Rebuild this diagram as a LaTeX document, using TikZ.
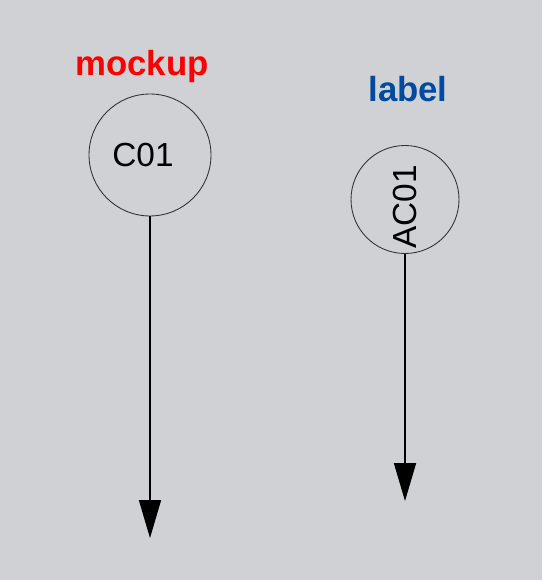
\documentclass[tikz,border=0pt]{standalone}
\usepackage{fontspec}
\setmainfont{Liberation Sans}
\usetikzlibrary{arrows.meta, positioning}
\definecolor{bggray}{RGB}{208,209,213}
\definecolor{mockred}{RGB}{255,0,0}
\definecolor{labelblue}{RGB}{0,75,160}

\begin{document}
\begin{tikzpicture}[x=0.02cm, y=-0.02cm, -{Triangle[length=21.5pt, width=12.5pt]}]
    \tikzstyle{bubble} = [draw=black!80, circle, line width=0.5pt, inner sep=0pt]
    \tikzstyle{title} = [font=\fontsize{19.8}{22}\selectfont\bfseries, anchor=base]
    \tikzstyle{tag} = [font=\fontsize{19}{22}\selectfont, anchor=base, inner sep=0pt]
    \fill[bggray] (0,0) rectangle (542,580);
    \node [bubble, minimum size=2.44cm] at (150,155) (c01) {};
    \node [tag] at (143,167) (c01text) {C01};
    \node [title, text=mockred] at (142,76) (mockup) {mockup};
    \node [bubble, minimum size=2.16cm] at (405,199.5) (ac01) {};
    \node [tag, rotate=90] at (416,207) (ac01text) {AC01};
    \node [title, text=labelblue] at (408,102) (label) {label};
    \coordinate (end1) at (150,538);
    \coordinate (end2) at (405,501);
    \draw[line width=0.8pt] (c01.south) -- (end1);
    \draw[line width=0.8pt] (ac01.south) -- (end2);
\end{tikzpicture}
\end{document}
